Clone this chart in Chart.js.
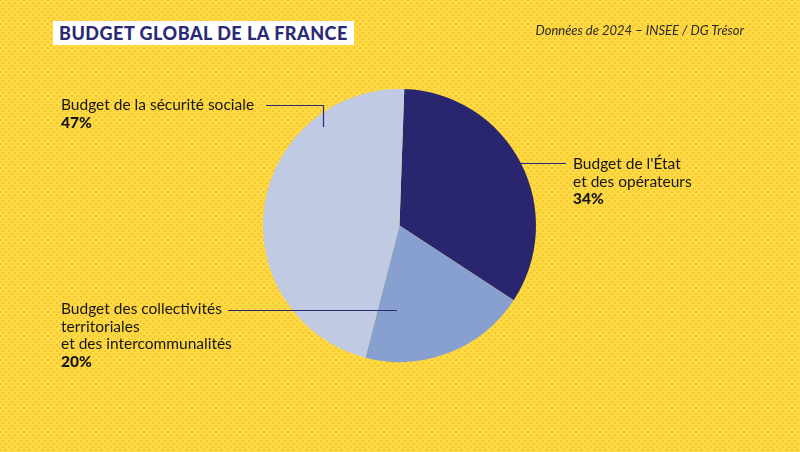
<!DOCTYPE html>
<html>
<head>
<meta charset="utf-8">
<script src="https://cdn.jsdelivr.net/npm/chart.js@4"></script>
<style>
  html,body{margin:0;padding:0;}
  body{
    width:800px;height:452px;overflow:hidden;position:relative;
    background-color:#fdd944;
    background-image:radial-gradient(#f6c630 0.9px, transparent 1.2px), radial-gradient(#f6c630 0.9px, transparent 1.2px);
    background-size:6px 6px;
    background-position:0 0, 3px 3px;
    font-family:Lato, "Open Sans", sans-serif;
  }
  #wrap{position:absolute;left:0;top:0;width:800px;height:452px;}
  .title{position:absolute;left:53px;top:21px;height:24px;padding:0 6px;background:#fff;
    color:#2b2a74;font-weight:900;font-size:18px;line-height:25px;letter-spacing:0.5px;}
  .src{position:absolute;right:56px;top:22px;font-size:13px;font-style:italic;color:#2a2a2a;}
  .lbl{position:absolute;font-size:15.5px;line-height:17.5px;color:#161616;}
  .lbl b{font-weight:900;}
</style>
</head>
<body>
<div id="wrap"><canvas id="pieChart" width="800" height="452"></canvas></div>
<div class="title">BUDGET GLOBAL DE LA FRANCE</div>
<div class="src">Données de 2024 – INSEE / DG Trésor</div>
<div class="lbl" id="lbl0" style="left:573px;top:155px;"></div>
<div class="lbl" id="lbl1" style="left:61px;top:300px;"></div>
<div class="lbl" id="lbl2" style="left:61px;top:96px;"></div>
<script>
// data
const categories = ["Budget de l'État\net des opérateurs", "Budget des collectivités\nterritoriales\net des intercommunalités", "Budget de la sécurité sociale"];
const shares = [34, 20, 47];
const colors = ['#29266f', '#87a0d0', '#c0cbe3'];

for(let i=0;i<categories.length;i++){
    document.getElementById('lbl'+i).innerHTML = categories[i].split('\n').join('<br>') + '<br><b>' + shares[i] + '%</b>';
}

// leader lines
const leaders = {
    id:'leaders',
    afterDraw(chart){
        const c = chart.ctx;
        c.save();
        c.strokeStyle = '#2b2a74';
        c.lineWidth = 1.2;
        c.beginPath();
        c.moveTo(266, 105.5); c.lineTo(323.5, 105.5); c.lineTo(323.5, 127);
        c.moveTo(520, 163.5); c.lineTo(566, 163.5);
        c.moveTo(228, 310.5); c.lineTo(397, 310.5);
        c.stroke();
        c.restore();
    }
};

const ctx = document.getElementById('pieChart').getContext('2d');
const myChart = new Chart(ctx, {
    type: 'pie',
    data: {
        labels: categories,
        datasets: [{
            data: shares,
            backgroundColor: colors,
            borderWidth: 0
        }]
    },
    options: {
        responsive: false,
        animation: false,
        rotation: 2,
        layout: { padding: { top: 89, bottom: 90, left: 0, right: 1 } },
        plugins: { legend: { display: false }, tooltip: { enabled: false } }
    },
    plugins: [leaders]
});
</script>
</body>
</html>
